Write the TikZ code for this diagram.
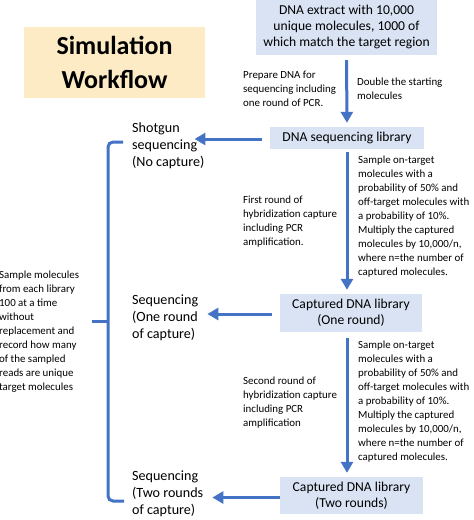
\documentclass[tikz,border=0pt]{standalone}
\usepackage{fontspec}
\setmainfont{Carlito}
\usepackage{xcolor}
\usepackage{tikz}
\usetikzlibrary{arrows.meta, positioning}
\definecolor{flowblue}{HTML}{4472C4}
\definecolor{libfill}{HTML}{DAE3F3}
\definecolor{titlefill}{HTML}{FDEBC5}

\begin{document}
\begin{tikzpicture}[
  x=1pt, y=-1pt,
  every node/.style={inner sep=0pt},
  libbox/.style={rectangle, fill=libfill, align=center, font=\fontsize{13.6}{16.4}\selectfont},
  note/.style={anchor=west, align=left, font=\fontsize{10.9}{14}\selectfont},
  seqtext/.style={anchor=west, align=left, font=\fontsize{14.1}{17}\selectfont},
  arr/.style={-{Triangle[length=11pt, width=12pt]}, line width=3pt, draw=flowblue},
  brace/.style={line width=3pt, draw=flowblue, rounded corners=5pt}
]
  \useasboundingbox (0,0) rectangle (474,520);

  \node[fill=titlefill, minimum width=181pt, minimum height=71pt, align=center,
        font=\bfseries\fontsize{26}{34}\selectfont] (title) at (114.5,62.5) {Simulation\\Workflow};

  \node[libbox, minimum width=181pt, minimum height=55pt] (extract) at (346.5,27)
    {DNA extract with 10,000\\unique molecules, 1000 of\\which match the target region};
  \node[libbox, minimum width=154pt, minimum height=22pt] (lib) at (347,138) {DNA sequencing library};
  \node[libbox, minimum width=142pt, minimum height=38pt] (cap1) at (351,313) {Captured DNA library\\(One round)};
  \node[libbox, minimum width=143pt, minimum height=37pt] (cap2) at (351.5,495.5) {Captured DNA library\\(Two rounds)};

  \node[seqtext] (shot) at (132,146) {Shotgun\\sequencing\\(No capture)};
  \node[seqtext] (seq1) at (132,318) {Sequencing\\(One round\\of capture)};
  \node[seqtext] (seq2) at (132,494) {Sequencing\\(Two rounds\\of capture)};

  \node[note] (prep) at (243,89) {Prepare DNA for\\sequencing including\\one round of PCR.};
  \node[note] (double) at (357,88.5) {Double the starting\\molecules};
  \node[note] (first) at (243,222) {First round of\\hybridization capture\\including PCR\\amplification.};
  \node[note] (sample1) at (358,216.5) {Sample on-target\\molecules with a\\probability of 50\% and\\off-target molecules with\\a probability of 10\%.\\Multiply the captured\\molecules by 10,000/n,\\where n=the number of\\captured molecules.};
  \node[note] (second) at (243,403) {Second round of\\hybridization capture\\including PCR\\amplification};
  \node[note] (sample2) at (358,402) {Sample on-target\\molecules with a\\probability of 50\% and\\off-target molecules with\\a probability of 10\%.\\Multiply the captured\\molecules by 10,000/n,\\where n=the number of\\captured molecules.};
  \node[note] (reads) at (-1,332) {Sample molecules\\from each library\\100 at a time\\without\\replacement and\\record how many\\of the sampled\\reads are unique\\target molecules};

  \draw[arr, shorten <=5.5pt, shorten >=4pt] (extract.south) -- (lib.north);
  \draw[arr, shorten <=3pt, shorten >=4pt] (lib.south) -- (lib.south |- cap1.north);
  \draw[arr, shorten <=6pt, shorten >=4pt] (lib.south |- cap1.south) -- (lib.south |- cap2.north);

  \draw[arr, shorten <=8pt] ([yshift=-1pt]lib.west) -- ([xshift=-10pt,yshift=-1pt]lib.west -| shot.east);
  \draw[arr, shorten <=8pt, shorten >=9pt] ([yshift=-1pt]cap1.west) -- ([yshift=-1pt]cap1.west -| seq1.east);
  \draw[arr, shorten >=9pt] ([yshift=-2pt]cap2.west) -- ([yshift=-2pt]cap2.west -| seq2.east);

  \coordinate (bracetop) at (123,142);
  \coordinate (bracebot) at (124,501);
  \coordinate (bracemid) at (108,321);
  \draw[brace] (bracetop) -- (108,142) -- (108,501) -- (bracebot);
  \draw[line width=3pt, draw=flowblue] (bracemid) -- ++(-16,0);
\end{tikzpicture}
\end{document}
